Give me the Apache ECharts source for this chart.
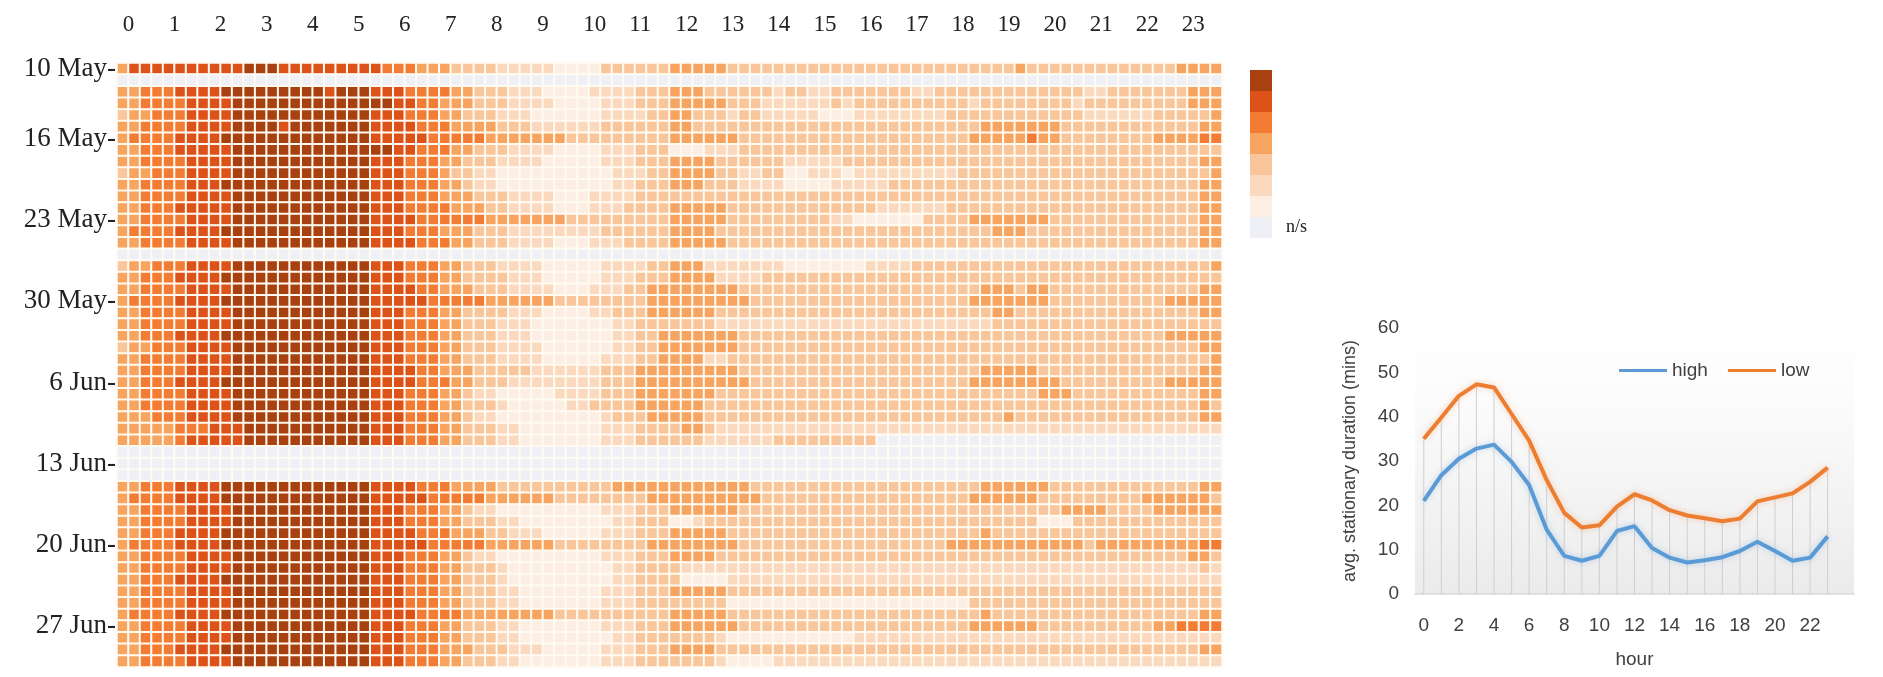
<!DOCTYPE html>
<html><head><meta charset="utf-8">
<script src="https://cdn.jsdelivr.net/npm/echarts@6/dist/echarts.min.js"></script>
<style>html,body{margin:0;padding:0;background:#fff}#c{width:1883px;height:677px}</style>
</head><body><div id="c"></div>
<script>
// ---------- data ----------
const hours = ['0','1','2','3','4','5','6','7','8','9','10','11','12','13','14','15','16','17','18','19','20','21','22','23'];
const quarters = ['00','15','30','45'];
const dates = ['10 May','11 May','12 May','13 May','14 May','15 May','16 May','17 May','18 May','19 May','20 May','21 May','22 May','23 May','24 May','25 May','26 May','27 May','28 May','29 May','30 May','31 May',
  '1 Jun','2 Jun','3 Jun','4 Jun','5 Jun','6 Jun','7 Jun','8 Jun','9 Jun','10 Jun','11 Jun','12 Jun','13 Jun','14 Jun','15 Jun','16 Jun','17 Jun','18 Jun','19 Jun','20 Jun',
  '21 Jun','22 Jun','23 Jun','24 Jun','25 Jun','26 Jun','27 Jun','28 Jun','29 Jun','30 Jun'];
const labeledDates = ['10 May','16 May','23 May','30 May','6 Jun','13 Jun','20 Jun','27 Jun'];
// level per 15-minute cell (0 = n/s, 1 light ... 7 dark), 24 groups of 4 per day
const cellLevels = [
 "4666 6666 6667 7766 6666 6665 5544 4333 3222 2211 1133 3333 4444 4333 3333 3333 3333 3333 3333 3343 3333 3333 3333 4444",
 ".... .... .... .... .... .... .... .... .... .... .... .... .... .... .... .... .... .... .... .... .... .... .... ....",
 "4455 5666 6777 7777 7767 7766 6555 5443 3322 2111 1222 2333 4443 3333 3233 2233 3333 3223 3333 3333 3333 2233 3333 3444",
 "4455 5566 6677 7777 7777 7777 6655 4443 3322 2211 1122 2333 4444 4333 2222 2232 3333 3333 3323 3333 3332 3333 3333 3444",
 "3445 5566 6677 7777 7777 7766 6555 4433 3222 1111 1122 2233 4433 3233 2222 2111 2222 2222 3333 3333 3333 2222 2233 3334",
 "4455 5566 6677 7767 7777 7766 6655 5444 4333 2222 2233 3333 4433 3333 3333 3333 3333 3333 3334 4444 4433 3333 3333 3344",
 "4555 5666 6777 7777 7777 7766 6665 5555 4444 4443 3333 3333 4444 4433 3333 3333 3333 3333 3344 4445 4433 3333 3344 4455",
 "4455 5666 6677 7777 7777 7777 6655 5443 3322 2211 1122 2333 1112 2233 3333 3333 3333 3333 3333 3333 3333 3333 3333 3333",
 "4455 5566 6677 7777 7777 7766 6555 4433 3222 2111 1122 2333 4444 3333 3322 2223 3333 3333 3333 3333 3333 3333 3333 3344",
 "3445 5566 6677 7777 7777 7766 6555 4332 2111 1111 1112 2233 4444 3322 3311 2221 2222 2222 2333 3333 3333 3333 3333 3334",
 "4455 5566 6777 7777 7777 7766 6555 4432 2111 1111 1112 2333 4443 3322 2211 1122 2223 3333 3333 3333 3333 3333 3333 3344",
 "4455 5566 6677 7777 7777 7766 6555 4443 3322 2211 1222 2333 3333 3333 3333 3333 3333 3333 3333 3333 3333 3333 3333 3344",
 "4455 5666 6677 7777 7777 7766 6555 5444 3322 2211 1222 3333 4444 4333 3333 3333 3322 2222 3333 3333 3333 3333 3333 3344",
 "4455 5566 6677 7777 7777 7766 6655 5555 4444 4443 3333 3333 4444 4333 3333 3322 1111 1133 3344 4444 4333 3333 3333 3344",
 "4555 5666 6777 7777 7777 7766 6555 4443 3322 2222 2233 3333 4444 3333 3333 3333 3333 3333 3333 4443 3333 3333 3333 3344",
 "4455 5566 6677 7777 7777 7766 6655 5443 3322 2211 1222 3333 4444 4333 3333 3333 3333 3333 3333 3333 3333 3333 3333 3344",
 ".... .... .... .... .... .... .... .... .... .... .... .... .... .... .... .... .... .... .... .... .... .... .... ....",
 "3445 5566 6677 7777 7777 7766 6555 4433 3222 2111 1122 2233 4442 2222 2211 1111 1222 2333 3333 3333 3333 3333 3333 3334",
 "4455 5666 6777 7777 7777 7766 6555 4433 3322 2111 1122 2333 4444 2222 3333 3333 3333 3333 3333 3333 3333 3333 3333 3333",
 "4455 5566 6677 7777 7777 7766 6655 4443 3322 2211 1222 3344 4444 4433 3333 3333 3333 3333 3334 4434 4333 3333 3333 3344",
 "4555 5666 6777 7777 7777 7766 6665 5555 4444 4433 3333 3344 4444 4443 3333 3333 3333 3333 3344 4444 4333 3333 3334 4444",
 "4455 5566 6677 7777 7777 7766 6555 4433 3322 2111 1223 3344 4444 3333 3333 3333 3333 3333 3333 4433 3333 3333 3333 3344",
 "4455 5566 6677 7777 7777 7766 6555 4433 3222 1111 1112 2333 3333 2222 2222 2222 2222 2222 2222 3333 3333 3333 3333 3333",
 "4455 5666 6777 7777 7777 7766 6555 4433 3222 1111 1112 2334 4444 4433 3333 3333 3333 3333 3333 3333 3333 3333 3334 4444",
 "3445 5566 6677 7777 7777 7766 6555 4433 3222 2111 1112 2334 4444 4433 3333 3333 3333 3333 3333 3333 3333 3333 3333 3344",
 "4455 5566 6677 7777 7777 7766 6555 4433 3222 2111 1122 2334 4442 2333 3333 3333 3333 3333 3333 3333 3333 3333 3333 3334",
 "4455 5566 6677 7777 7777 7766 6655 4443 3333 2222 2233 3444 4444 4433 3333 3333 3333 3333 3334 4444 3333 3333 3333 3344",
 "4455 5666 6777 7777 7777 7766 6655 5443 3322 2222 2233 3444 4444 4443 3333 3333 3333 3333 3344 4444 4433 3333 3334 4444",
 "4455 5566 6677 7777 7777 7766 6555 4432 2111 1122 2233 3444 4444 3333 3333 3333 3333 3333 3333 3333 4443 3333 3333 3344",
 "4455 5566 6677 7777 7777 7766 6555 4433 3211 1112 2333 3444 4443 3333 3333 3333 3333 3333 3333 3333 3333 3333 3333 3343",
 "4445 5566 6677 7777 7777 7766 6555 4432 2111 1111 1123 3344 4443 3333 3333 3333 3333 3333 3333 3433 3333 3333 3333 3344",
 "4444 4555 6667 7777 7777 7766 6555 4433 3221 1111 1122 2333 3443 2222 2222 2222 2222 2222 2222 2222 2222 2222 2222 2222",
 "4444 4566 6667 7777 7777 7766 6555 4433 3221 1111 1122 2333 3332 2222 2333 3333 33.. .... .... .... .... .... .... ....",
 ".... .... .... .... .... .... .... .... .... .... .... .... .... .... .... .... .... .... .... .... .... .... .... ....",
 ".... .... .... .... .... .... .... .... .... .... .... .... .... .... .... .... .... .... .... .... .... .... .... ....",
 ".... .... .... .... .... .... .... .... .... .... .... .... .... .... .... .... .... .... .... .... .... .... .... ....",
 "4455 5666 6777 7777 7777 7766 6655 5444 4333 3333 3334 4444 4444 4443 3333 3333 3333 3333 3334 4444 4333 3333 3333 3344",
 "4555 5666 6777 7777 7777 7766 6665 5555 4444 4433 3333 3344 4444 4444 3333 3333 3333 3333 3344 4444 3333 3333 3444 4443",
 "4455 5566 6677 7777 7777 7766 6555 4432 2111 1111 1122 2333 4444 4433 3333 3333 3333 3333 3333 3333 3344 4433 3344 4444",
 "4455 5566 6677 7777 7777 7766 6555 4433 3221 1111 1112 2333 1123 3333 3333 3333 3333 3333 3333 3333 1113 3333 3333 3333",
 "4455 5666 6777 7777 7777 7766 6655 5444 3322 2111 1122 2333 4444 4333 3333 3333 3333 3333 3334 3333 3333 3333 3333 3333",
 "4555 5666 6777 7777 7777 7766 6665 5555 4444 4433 3333 3344 4444 4433 3333 3333 3333 3333 4444 4444 4444 3444 4444 4455",
 "4455 5566 6677 7777 7777 7766 6555 4432 2111 1111 1122 2333 4444 3333 3333 3333 3333 3333 3333 3333 3333 3333 3333 3443",
 "4455 5566 6677 7777 7777 7766 6555 4433 3211 1111 1112 2333 3222 2222 2222 2222 2222 2222 2222 2222 2222 2222 2222 2232",
 "4455 5666 6777 7777 7777 7766 6555 4433 3211 1111 1112 2333 3111 1222 2222 2222 2222 2222 2222 2222 2222 2222 2222 2222",
 "4455 5566 6677 7777 7777 7766 6555 4433 3221 1111 1122 2333 4444 4333 3333 3333 3333 3333 3333 3333 3333 3333 3333 3333",
 "4455 5566 6677 7777 7777 7766 6555 4433 3221 1111 1122 2333 3333 3111 1111 1111 1111 1111 1133 3333 3333 3333 3333 3333",
 "4555 5666 6777 7777 7777 7766 6655 5544 4444 4433 3333 3333 4444 4333 3333 3333 3333 3333 3334 3333 3333 3333 3333 3344",
 "4455 5566 6677 7777 7777 7766 6555 4433 3221 1111 1122 2333 4444 4433 3333 3333 3333 3333 3344 4444 3333 3333 3344 5555",
 "4455 5566 6677 7777 7777 7766 6555 4433 3221 1111 1112 2333 3333 2111 1111 1111 2222 2222 2222 2222 2222 2222 2222 2222",
 "4455 5666 6777 7777 7777 7766 6555 4443 3322 2111 1122 2333 4444 3333 3333 3333 3333 3333 3333 3333 3333 3333 3333 3344",
 "4455 5566 6677 7777 7777 7766 6555 4433 3221 1111 1122 2333 3333 2111 1222 2222 2222 2222 2222 2222 2222 2222 2222 2222"
];
const levelColors = ['#eef0f6','#fdeee3','#fbd9bf','#f9c59a','#f7a461','#f27c34','#dc5218','#a8400f'];
const levelNames = ['n/s','','','','','','',''];

const lineHours = ['0','1','2','3','4','5','6','7','8','9','10','11','12','13','14','15','16','17','18','19','20','21','22','23',''];
const highDuration = [21, 26.8, 30.5, 32.8, 33.7, 29.8, 24.6, 14.5, 8.6, 7.5, 8.6, 14.2, 15.3, 10.4, 8.2, 7.1, 7.6, 8.3, 9.7, 11.8, 9.7, 7.5, 8.2, 13];
const lowDuration  = [35, 39.8, 44.7, 47.3, 46.6, 40.6, 34.6, 25.7, 18.3, 15, 15.5, 19.7, 22.5, 21.1, 18.9, 17.7, 17.1, 16.4, 17, 20.9, 21.8, 22.7, 25.3, 28.5];

// ---------- build ----------
const slotCats = [];
hours.forEach(h => quarters.forEach(q => slotCats.push(h + ':' + q)));
const heatData = [];
cellLevels.forEach((row, r) => {
  row.replace(/ /g, '').split('').forEach((ch, c) => {
    heatData.push([c, r, ch === '.' ? 0 : Number(ch)]);
  });
});

const chart = echarts.init(document.getElementById('c'), null, {renderer: 'canvas'});
const serif = 'Liberation Serif';
const sans = 'Liberation Sans';
chart.setOption({
  animation: false,
  backgroundColor: '#ffffff',
  grid: [
    {left: 117, top: 63, width: 1105, height: 604},
    {left: 1415, top: 328, width: 439, height: 266, show: true, borderWidth: 0,
     backgroundColor: new echarts.graphic.LinearGradient(0, 0, 0, 1, [
       {offset: 0, color: '#ffffff'}, {offset: 0.3, color: '#fbfbfb'}, {offset: 1, color: '#ebebeb'}])}
  ],
  xAxis: [
    {gridIndex: 0, type: 'category', data: slotCats, position: 'top',
     axisLine: {show: false}, axisTick: {show: false}, splitLine: {show: false},
     axisLabel: {interval: (i) => i % 4 === 0, formatter: (v) => v.split(':')[0], align: 'left',
       fontFamily: serif, fontSize: 23, color: '#222', margin: 27}},
    {gridIndex: 1, type: 'category', data: lineHours,
     axisLine: {lineStyle: {color: '#d9d9d9', width: 1.5}}, axisTick: {show: false},
     axisLabel: {interval: 1, color: '#404040', fontSize: 19, fontFamily: sans, margin: 22},
     name: 'hour', nameLocation: 'middle', nameGap: 56,
     nameTextStyle: {color: '#404040', fontSize: 19, fontFamily: sans}}
  ],
  yAxis: [
    {gridIndex: 0, type: 'category', data: dates, inverse: true,
     axisLine: {show: false}, axisTick: {show: false}, splitLine: {show: false},
     axisLabel: {interval: (i, v) => labeledDates.indexOf(v) >= 0, formatter: (v) => v + '-',
       fontFamily: serif, fontSize: 27, color: '#222', margin: 1}},
    {gridIndex: 1, type: 'value', min: 0, max: 60, interval: 10,
     splitLine: {show: false}, axisLine: {show: false}, axisTick: {show: false},
     axisLabel: {color: '#404040', fontSize: 19, fontFamily: sans, margin: 16},
     name: 'avg. stationary duration (mins)', nameLocation: 'middle', nameGap: 56, nameRotate: 90,
     nameTextStyle: {color: '#404040', fontSize: 18, fontFamily: sans}}
  ],
  visualMap: {
    type: 'piecewise', seriesIndex: 0, dimension: 2, orient: 'vertical', align: 'left', padding: 0,
    pieces: levelColors.map((c, i) => ({value: i, color: c, label: levelNames[i] || ' '})),
    left: 1250, top: 70, itemWidth: 22, itemHeight: 21, itemGap: 0, textGap: 14,
    itemSymbol: 'rect', selectedMode: false,
    textStyle: {fontFamily: serif, fontSize: 18, color: '#222'}
  },
  legend: {data: ['high', 'low'], left: 1614, top: 356, itemWidth: 48, itemHeight: 3, icon: 'rect', itemGap: 20,
    textStyle: {fontSize: 19, color: '#404040', fontFamily: sans}},
  series: [
    {type: 'heatmap', xAxisIndex: 0, yAxisIndex: 0, data: heatData, silent: true,
     itemStyle: {borderColor: '#fffbf2', borderWidth: 2}, emphasis: {disabled: true}},
    {type: 'bar', name: 'drop', xAxisIndex: 1, yAxisIndex: 1, data: lowDuration, barWidth: 1, silent: true,
     itemStyle: {color: '#cfcfcf'}},
    {type: 'line', name: 'high', xAxisIndex: 1, yAxisIndex: 1, data: highDuration, symbol: 'none',
     lineStyle: {width: 4, color: '#5b9bd5', shadowColor: 'rgba(91,155,213,0.35)', shadowBlur: 6},
     itemStyle: {color: '#5b9bd5'}},
    {type: 'line', name: 'low', xAxisIndex: 1, yAxisIndex: 1, data: lowDuration, symbol: 'none',
     lineStyle: {width: 4, color: '#ed7d31', shadowColor: 'rgba(237,125,49,0.35)', shadowBlur: 6},
     itemStyle: {color: '#ed7d31'}}
  ]
});
</script></body></html>
